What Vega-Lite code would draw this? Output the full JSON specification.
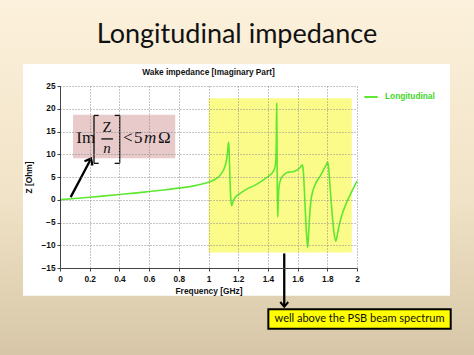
{
  "$schema": "https://vega.github.io/schema/vega-lite/v6.json",
  "width": 297,
  "height": 182,
  "autosize": "none",
  "padding": {"left": 60, "top": 86, "right": 117, "bottom": 87},
  "background": "#efe2c6",
  "config": {
    "view": {"stroke": null},
    "axis": {
      "labelFont": "Liberation Sans", "labelFontSize": 8.3, "labelFontWeight": "bold", "labelColor": "#111",
      "titleFont": "Liberation Sans", "titleFontSize": 8.4, "titleFontWeight": "bold", "titleColor": "#111",
      "labelOverlap": false, "labelFlush": false,
      "grid": true, "gridDash": [1, 2], "gridColor": "#8a8a8a", "gridOpacity": 1,
      "domainColor": "#444", "tickColor": "#444", "tickSize": 3, "zindex": 1
    }
  },
  "datasets": {
    "curve": [
      {"f": 0, "z": 0, "s": "Longitudinal"}, {"f": 0.1, "z": 0.28, "s": "Longitudinal"}, {"f": 0.2, "z": 0.55, "s": "Longitudinal"},
      {"f": 0.3, "z": 0.85, "s": "Longitudinal"}, {"f": 0.4, "z": 1.15, "s": "Longitudinal"}, {"f": 0.5, "z": 1.45, "s": "Longitudinal"},
      {"f": 0.6, "z": 1.8, "s": "Longitudinal"}, {"f": 0.7, "z": 2.15, "s": "Longitudinal"}, {"f": 0.8, "z": 2.55, "s": "Longitudinal"},
      {"f": 0.9, "z": 3.05, "s": "Longitudinal"}, {"f": 0.95, "z": 3.4, "s": "Longitudinal"}, {"f": 1.0, "z": 3.85, "s": "Longitudinal"},
      {"f": 1.04, "z": 4.4, "s": "Longitudinal"}, {"f": 1.07, "z": 5.1, "s": "Longitudinal"}, {"f": 1.09, "z": 5.9, "s": "Longitudinal"},
      {"f": 1.105, "z": 6.8, "s": "Longitudinal"}, {"f": 1.115, "z": 7.8, "s": "Longitudinal"}, {"f": 1.125, "z": 9.5, "s": "Longitudinal"},
      {"f": 1.13, "z": 11, "s": "Longitudinal"}, {"f": 1.135, "z": 12.6, "s": "Longitudinal"}, {"f": 1.139, "z": 11, "s": "Longitudinal"},
      {"f": 1.143, "z": 6, "s": "Longitudinal"}, {"f": 1.148, "z": 1.5, "s": "Longitudinal"}, {"f": 1.153, "z": -0.8, "s": "Longitudinal"},
      {"f": 1.157, "z": -1.3, "s": "Longitudinal"}, {"f": 1.163, "z": -0.6, "s": "Longitudinal"}, {"f": 1.172, "z": 0.1, "s": "Longitudinal"},
      {"f": 1.185, "z": 0.7, "s": "Longitudinal"}, {"f": 1.2, "z": 1.1, "s": "Longitudinal"}, {"f": 1.23, "z": 1.8, "s": "Longitudinal"},
      {"f": 1.26, "z": 2.4, "s": "Longitudinal"}, {"f": 1.3, "z": 3.0, "s": "Longitudinal"}, {"f": 1.34, "z": 3.7, "s": "Longitudinal"},
      {"f": 1.38, "z": 4.6, "s": "Longitudinal"}, {"f": 1.41, "z": 5.3, "s": "Longitudinal"}, {"f": 1.435, "z": 6.2, "s": "Longitudinal"},
      {"f": 1.448, "z": 7.2, "s": "Longitudinal"}, {"f": 1.454, "z": 9, "s": "Longitudinal"}, {"f": 1.457, "z": 14, "s": "Longitudinal"},
      {"f": 1.459, "z": 21.2, "s": "Longitudinal"}, {"f": 1.461, "z": 14, "s": "Longitudinal"}, {"f": 1.463, "z": 3, "s": "Longitudinal"},
      {"f": 1.466, "z": -3.8, "s": "Longitudinal"}, {"f": 1.469, "z": -1, "s": "Longitudinal"}, {"f": 1.473, "z": 2.2, "s": "Longitudinal"},
      {"f": 1.48, "z": 3.8, "s": "Longitudinal"}, {"f": 1.49, "z": 4.7, "s": "Longitudinal"}, {"f": 1.505, "z": 5.4, "s": "Longitudinal"},
      {"f": 1.525, "z": 5.9, "s": "Longitudinal"}, {"f": 1.55, "z": 6.1, "s": "Longitudinal"}, {"f": 1.575, "z": 6.2, "s": "Longitudinal"},
      {"f": 1.6, "z": 6.6, "s": "Longitudinal"}, {"f": 1.62, "z": 7.2, "s": "Longitudinal"}, {"f": 1.632, "z": 7.7, "s": "Longitudinal"},
      {"f": 1.638, "z": 6.5, "s": "Longitudinal"}, {"f": 1.645, "z": 2.5, "s": "Longitudinal"}, {"f": 1.652, "z": -2.5, "s": "Longitudinal"},
      {"f": 1.66, "z": -7.5, "s": "Longitudinal"}, {"f": 1.668, "z": -10.5, "s": "Longitudinal"}, {"f": 1.674, "z": -7.5, "s": "Longitudinal"},
      {"f": 1.682, "z": -3, "s": "Longitudinal"}, {"f": 1.692, "z": 0.3, "s": "Longitudinal"}, {"f": 1.705, "z": 2.2, "s": "Longitudinal"},
      {"f": 1.725, "z": 3.8, "s": "Longitudinal"}, {"f": 1.75, "z": 5.1, "s": "Longitudinal"}, {"f": 1.775, "z": 6.6, "s": "Longitudinal"},
      {"f": 1.795, "z": 7.8, "s": "Longitudinal"}, {"f": 1.802, "z": 8.3, "s": "Longitudinal"}, {"f": 1.808, "z": 7.3, "s": "Longitudinal"},
      {"f": 1.815, "z": 4.5, "s": "Longitudinal"}, {"f": 1.825, "z": 0, "s": "Longitudinal"}, {"f": 1.835, "z": -4, "s": "Longitudinal"},
      {"f": 1.845, "z": -7.2, "s": "Longitudinal"}, {"f": 1.857, "z": -9.1, "s": "Longitudinal"}, {"f": 1.868, "z": -7.6, "s": "Longitudinal"},
      {"f": 1.88, "z": -5.6, "s": "Longitudinal"}, {"f": 1.9, "z": -3.2, "s": "Longitudinal"}, {"f": 1.925, "z": -1, "s": "Longitudinal"},
      {"f": 1.95, "z": 0.8, "s": "Longitudinal"}, {"f": 1.975, "z": 2.5, "s": "Longitudinal"}, {"f": 2.0, "z": 4.1, "s": "Longitudinal"}
    ],
    "bg": [{"f": -0.404, "f2": 2.788, "z": 43.97, "z2": -34.35}],
    "panel": [{"f": -0.249, "f2": 2.626, "z": 29.85, "z2": -21.1}],
    "highlight": [{"f": 1.0, "f2": 1.965, "z": 22.3, "z2": -11.6}],
    "pink": [{"f": 0.0875, "f2": 0.776, "z": 18.66, "z2": 9.11}],
    "formulaUp": [
      {"f": 0.110, "z": 12.42, "t": "Im"}, {"f": 0.4242, "z": 12.42, "t": "<"},
      {"f": 0.4983, "z": 12.42, "t": "5"}, {"f": 0.6599, "z": 12.42, "t": "Ω"}
    ],
    "formulaIt": [{"f": 0.5657, "z": 12.42, "t": "m"}],
    "fracTop": [{"f": 0.3165, "z": 14.85, "t": "Z"}],
    "fracBottom": [{"f": 0.3165, "z": 10.21, "t": "n"}],
    "strokes": [
      {"f": 0.229, "f2": 0.229, "z": 18.53, "z2": 8.0},
      {"f": 0.229, "f2": 0.2606, "z": 18.53, "z2": 18.53},
      {"f": 0.229, "f2": 0.2606, "z": 8.0, "z2": 8.0},
      {"f": 0.402, "f2": 0.402, "z": 18.53, "z2": 8.0},
      {"f": 0.3684, "f2": 0.402, "z": 18.53, "z2": 18.53},
      {"f": 0.3684, "f2": 0.402, "z": 8.0, "z2": 8.0},
      {"f": 0.278, "f2": 0.357, "z": 13.37, "z2": 13.37}
    ],
    "arrows": [
      {"f": 0.072, "f2": 0.206, "z": 0.57, "z2": 8.85},
      {"f": 1.51, "f2": 1.51, "z": -11.8, "z2": -23.5}
    ],
    "head1": [{"f": 0.2003, "z": 8.52}],
    "head2": [{"f": 1.51, "z": -23.0}],
    "labelBox": [{"f": 1.403, "f2": 2.631, "z": -24.05, "z2": -28.33}],
    "labelText": [{"f": 2.017, "z": -26.2, "t": "well above the PSB beam spectrum"}],
    "slideTitle": [{"f": 1.192, "z": 34.4, "t": "Longitudinal impedance"}],
    "chartTitle": [{"f": 1.0, "z": 27.75, "t": "Wake impedance [Imaginary Part]"}]
  },
  "layer": [
    {
      "data": {"name": "bg"},
      "mark": {"type": "rect", "color": {"gradient": "linear", "x1": 0, "y1": 0, "x2": 0, "y2": 1, "stops": [{"offset": 0, "color": "#fcf1dc"}, {"offset": 0.55, "color": "#f1e3c7"}, {"offset": 1, "color": "#d7c7a8"}]}},
      "encoding": {
        "x": {"field": "f", "type": "quantitative", "scale": {"domain": [0, 2], "nice": false, "zero": false},
          "axis": {"title": "Frequency [GHz]", "values": [0, 0.2, 0.4, 0.6, 0.8, 1, 1.2, 1.4, 1.6, 1.8, 2], "tickCount": 20, "format": "~g", "labelOverlap": false, "labelFlush": false, "labelPadding": 3, "titlePadding": 4, "zindex": 1}},
        "x2": {"field": "f2"},
        "y": {"field": "z", "type": "quantitative", "scale": {"domain": [-15, 25], "nice": false, "zero": false},
          "axis": {"title": "Z [Ohm]", "values": [-15, -10, -5, 0, 5, 10, 15, 20, 25], "tickCount": 20, "labelOverlap": false, "labelFlush": false, "labelPadding": 2, "titlePadding": 7, "zindex": 1}},
        "y2": {"field": "z2"}
      }
    },
    {
      "data": {"name": "panel"},
      "mark": {"type": "rect", "color": "#ffffff"},
      "encoding": {"x": {"field": "f", "type": "quantitative"}, "x2": {"field": "f2"}, "y": {"field": "z", "type": "quantitative"}, "y2": {"field": "z2"}}
    },
    {
      "data": {"name": "highlight"},
      "mark": {"type": "rect", "color": "#fbfb8a"},
      "encoding": {"x": {"field": "f", "type": "quantitative"}, "x2": {"field": "f2"}, "y": {"field": "z", "type": "quantitative"}, "y2": {"field": "z2"}}
    },
    {
      "data": {"name": "pink"},
      "mark": {"type": "rect", "color": "#e8caca"},
      "encoding": {"x": {"field": "f", "type": "quantitative"}, "x2": {"field": "f2"}, "y": {"field": "z", "type": "quantitative"}, "y2": {"field": "z2"}}
    },
    {
      "data": {"name": "curve"},
      "mark": {"type": "line", "strokeWidth": 1.6, "interpolate": "monotone"},
      "encoding": {
        "x": {"field": "f", "type": "quantitative"},
        "y": {"field": "z", "type": "quantitative"},
        "color": {"field": "s", "type": "nominal", "scale": {"range": ["#5ee830"]},
          "legend": {"orient": "none", "legendX": 303, "legendY": 3, "title": null, "symbolType": "stroke", "symbolSize": 180, "symbolStrokeWidth": 2,
            "labelFont": "Liberation Sans", "labelFontWeight": "bold", "labelFontSize": 8.3, "labelColor": "#3fd62a", "labelOffset": 6, "padding": 0, "zindex": 1}}
      }
    },
    {
      "data": {"name": "formulaUp"},
      "mark": {"type": "text", "font": "Liberation Serif", "fontSize": 17, "align": "left", "baseline": "alphabetic", "color": "#111"},
      "encoding": {"x": {"field": "f", "type": "quantitative"}, "y": {"field": "z", "type": "quantitative"}, "text": {"field": "t"}}
    },
    {
      "data": {"name": "formulaIt"},
      "mark": {"type": "text", "font": "Liberation Serif", "fontSize": 17, "fontStyle": "italic", "align": "left", "baseline": "alphabetic", "color": "#111"},
      "encoding": {"x": {"field": "f", "type": "quantitative"}, "y": {"field": "z", "type": "quantitative"}, "text": {"field": "t"}}
    },
    {
      "data": {"name": "fracTop"},
      "mark": {"type": "text", "font": "Liberation Serif", "fontSize": 15, "align": "center", "baseline": "alphabetic", "color": "#111"},
      "encoding": {"x": {"field": "f", "type": "quantitative"}, "y": {"field": "z", "type": "quantitative"}, "text": {"field": "t"}}
    },
    {
      "data": {"name": "fracBottom"},
      "mark": {"type": "text", "font": "Liberation Serif", "fontSize": 15, "fontStyle": "italic", "align": "center", "baseline": "alphabetic", "color": "#111"},
      "encoding": {"x": {"field": "f", "type": "quantitative"}, "y": {"field": "z", "type": "quantitative"}, "text": {"field": "t"}}
    },
    {
      "data": {"name": "strokes"},
      "mark": {"type": "rule", "color": "#111", "strokeWidth": 1.3},
      "encoding": {"x": {"field": "f", "type": "quantitative"}, "x2": {"field": "f2"}, "y": {"field": "z", "type": "quantitative"}, "y2": {"field": "z2"}}
    },
    {
      "data": {"name": "arrows"},
      "mark": {"type": "rule", "color": "#000", "strokeWidth": 2.3},
      "encoding": {"x": {"field": "f", "type": "quantitative"}, "x2": {"field": "f2"}, "y": {"field": "z", "type": "quantitative"}, "y2": {"field": "z2"}}
    },
    {
      "data": {"name": "head1"},
      "mark": {"type": "point", "shape": "M-1,-0.6L0,0.6L1,-0.6", "size": 81, "angle": 208, "filled": false, "stroke": "#000", "strokeWidth": 2.3, "opacity": 1},
      "encoding": {"x": {"field": "f", "type": "quantitative"}, "y": {"field": "z", "type": "quantitative"}}
    },
    {
      "data": {"name": "head2"},
      "mark": {"type": "point", "shape": "M-1,-0.6L0,0.6L1,-0.6", "size": 64, "filled": false, "stroke": "#000", "strokeWidth": 2, "opacity": 1},
      "encoding": {"x": {"field": "f", "type": "quantitative"}, "y": {"field": "z", "type": "quantitative"}}
    },
    {
      "data": {"name": "labelBox"},
      "mark": {"type": "rect", "fill": "#ffff00", "stroke": "#000", "strokeWidth": 2},
      "encoding": {"x": {"field": "f", "type": "quantitative"}, "x2": {"field": "f2"}, "y": {"field": "z", "type": "quantitative"}, "y2": {"field": "z2"}}
    },
    {
      "data": {"name": "labelText"},
      "mark": {"type": "text", "font": "Lato", "fontSize": 11, "align": "center", "baseline": "middle", "color": "#111"},
      "encoding": {"x": {"field": "f", "type": "quantitative"}, "y": {"field": "z", "type": "quantitative"}, "text": {"field": "t"}}
    },
    {
      "data": {"name": "slideTitle"},
      "mark": {"type": "text", "font": "Lato", "fontSize": 27, "align": "center", "baseline": "alphabetic", "color": "#111"},
      "encoding": {"x": {"field": "f", "type": "quantitative"}, "y": {"field": "z", "type": "quantitative"}, "text": {"field": "t"}}
    },
    {
      "data": {"name": "chartTitle"},
      "mark": {"type": "text", "font": "Liberation Sans", "fontSize": 8.3, "fontWeight": "bold", "align": "center", "baseline": "middle", "color": "#111"},
      "encoding": {"x": {"field": "f", "type": "quantitative"}, "y": {"field": "z", "type": "quantitative"}, "text": {"field": "t"}}
    }
  ]
}
